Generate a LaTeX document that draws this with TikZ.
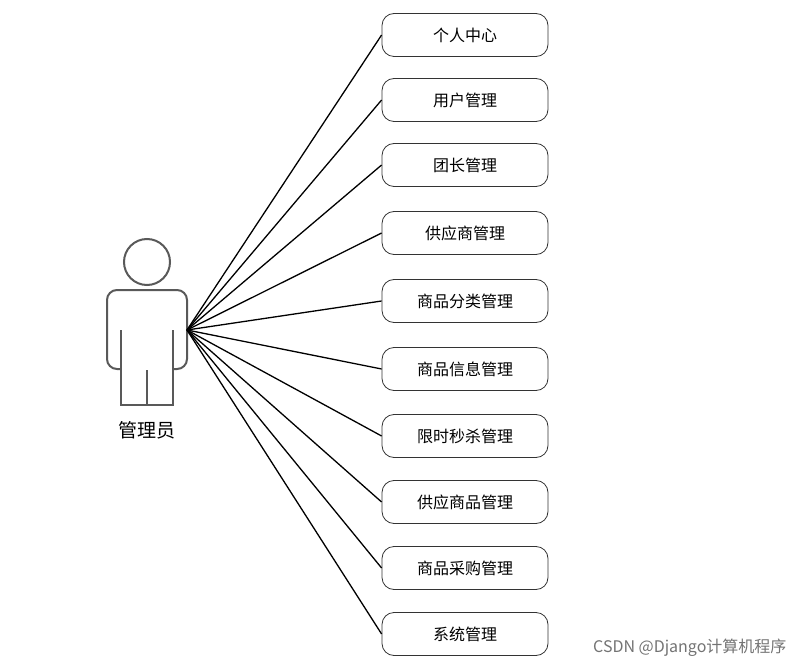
\documentclass[tikz,border=0pt]{standalone}
\usepackage{fontspec}
\newfontfamily\cjk{Noto Sans CJK SC}
\begin{document}
\begin{tikzpicture}[x=1pt,y=-1pt,
  uc/.style={draw=black!80,rounded corners=12pt,minimum width=166pt,minimum height=43pt,font=\cjk\fontsize{16}{18}\selectfont,line width=0.8pt},
  link/.style={line width=1.3pt}]
\useasboundingbox (0,0) rectangle (800,668);
\begin{scope}[draw=black!65,line width=2pt]
\draw (147,262) circle (23);
\draw[rounded corners=10pt] (121,369) -- (107,369) -- (107,290) -- (187,290) -- (187,369) -- (173,369);
\draw (121,330) -- (121,405) -- (173,405) -- (173,330);
\draw (147,370) -- (147,405);
\end{scope}
\coordinate (hand) at (187,330);
\node[font=\cjk\fontsize{19}{22}\selectfont] (actor) at (147,430) {管理员};
\foreach \n/\y/\t in {1/35/个人中心,2/100/用户管理,3/165/团长管理,4/233/供应商管理,5/301/商品分类管理,6/369/商品信息管理,7/436/限时秒杀管理,8/502/供应商品管理,9/568/商品采购管理,10/634/系统管理}{
  \node[uc] (u\n) at (465,\y) {\t};
  \draw[link] (hand) -- (u\n.west);
}
\node[font=\cjk\fontsize{16}{18}\selectfont,text=black!55,anchor=east] (wm) at (790,648) {CSDN @Django计算机程序};
\end{tikzpicture}
\end{document}
